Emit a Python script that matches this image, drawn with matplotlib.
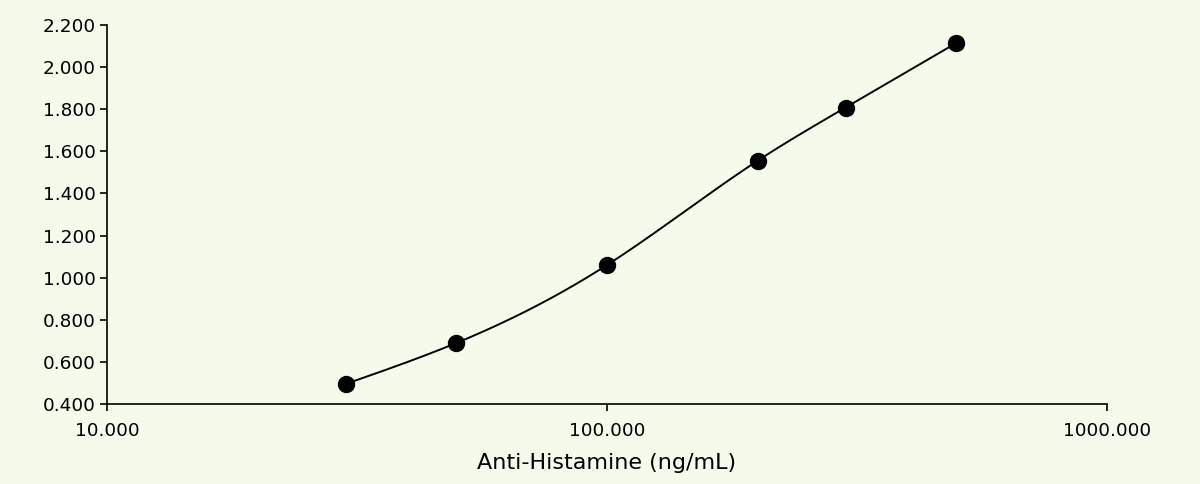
import numpy as np
import matplotlib
matplotlib.use("Agg")
import matplotlib.pyplot as plt
from matplotlib.ticker import FixedLocator, FuncFormatter, NullLocator

# Data
concentration = [30, 50, 100, 200, 300, 500]
absorbance = [0.495, 0.690, 1.060, 1.555, 1.808, 2.115]
x_ticks = [10, 100, 1000]
y_ticks = [0.4, 0.6, 0.8, 1.0, 1.2, 1.4, 1.6, 1.8, 2.0, 2.2]
x_label = "Anti-Histamine (ng/mL)"

bg = "#F4FBEB"
plt.rcParams['font.family'] = ['DejaVu Sans']


def natural_spline(xs, ys, xq):
    xs = np.asarray(xs, float); ys = np.asarray(ys, float)
    n = len(xs)
    h = np.diff(xs)
    A = np.zeros((n, n)); b = np.zeros(n)
    A[0, 0] = 1; A[-1, -1] = 1
    for i in range(1, n - 1):
        A[i, i - 1] = h[i - 1]
        A[i, i] = 2 * (h[i - 1] + h[i])
        A[i, i + 1] = h[i]
        b[i] = 3 * ((ys[i + 1] - ys[i]) / h[i] - (ys[i] - ys[i - 1]) / h[i - 1])
    c = np.linalg.solve(A, b)
    out = np.empty_like(xq)
    for k, x in enumerate(xq):
        i = min(max(np.searchsorted(xs, x) - 1, 0), n - 2)
        dx = x - xs[i]
        bb = (ys[i + 1] - ys[i]) / h[i] - h[i] * (2 * c[i] + c[i + 1]) / 3
        d = (c[i + 1] - c[i]) / (3 * h[i])
        out[k] = ys[i] + bb * dx + c[i] * dx ** 2 + d * dx ** 3
    return out


fig = plt.figure(figsize=(12, 4.84), dpi=100, facecolor=bg)
ax = fig.add_axes([107 / 1200, 80 / 484, 1000 / 1200, 379 / 484])
ax.set_facecolor(bg)

lx = np.log10(concentration)
xq = np.linspace(lx[0], lx[-1], 300)
yq = natural_spline(lx, absorbance, xq)
ax.plot(10 ** xq, yq, color='black', lw=1.4, zorder=2)
ax.plot(concentration, absorbance, 'o', color='black', ms=11.5, zorder=3)

ax.set_xscale('log')
ax.set_xlim(10, 1000)
ax.set_ylim(0.4, 2.2)
ax.xaxis.set_major_locator(FixedLocator(x_ticks))
ax.xaxis.set_minor_locator(NullLocator())
ax.xaxis.set_major_formatter(FuncFormatter(lambda v, p: f"{v:.3f}"))
ax.yaxis.set_major_locator(FixedLocator(y_ticks))
ax.yaxis.set_major_formatter(FuncFormatter(lambda v, p: f"{v:.3f}"))

for s in ['top', 'right']:
    ax.spines[s].set_visible(False)
for s in ['left', 'bottom']:
    ax.spines[s].set_linewidth(1.2)
    ax.spines[s].set_color('black')
ax.tick_params(direction='out', length=5, width=1.2, labelsize=13.3, colors='black')
ax.tick_params(axis='y', pad=3)
ax.tick_params(axis='x', pad=8)
ax.set_xlabel(x_label, fontsize=16, labelpad=9)

fig.savefig("out.png", dpi=100, facecolor=bg)
